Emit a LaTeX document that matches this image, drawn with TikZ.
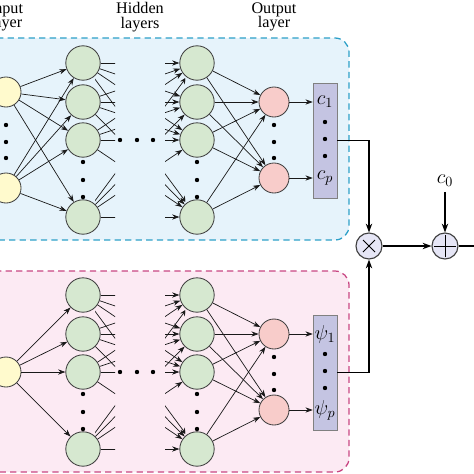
\documentclass[tikz,border=0pt]{standalone}
\usepackage{amsmath}
\usepackage{fontspec}
\setmainfont{Liberation Serif}
\usepackage{tikz}
\usetikzlibrary{arrows.meta}

\definecolor{boxblu}{RGB}{230,243,251}
\definecolor{bordoblu}{RGB}{45,160,200}
\definecolor{boxrosa}{RGB}{252,234,243}
\definecolor{bordorosa}{RGB}{200,70,130}
\definecolor{ingr}{RGB}{255,250,205}
\definecolor{nasc}{RGB}{214,232,208}
\definecolor{usc}{RGB}{248,204,202}
\definecolor{vett}{RGB}{196,196,226}
\definecolor{oper}{RGB}{230,230,246}

\tikzset{
  neur/.style={circle, draw=black!75, inner sep=0pt, line width=0.6pt},
  inp/.style={neur, fill=ingr, minimum size=0.75cm},
  hid/.style={neur, fill=nasc, minimum size=0.86cm},
  outn/.style={neur, fill=usc, minimum size=0.75cm},
  vec/.style={draw=black!50, fill=vett, minimum width=0.6cm, minimum height=2.875cm, inner sep=0pt},
  opn/.style={neur, fill=oper, minimum size=0.65cm, line width=0.8pt},
  conn/.style={-{Stealth[length=1.8mm, width=1.3mm]}, line width=0.5pt, black!90},
  link/.style={-{Stealth[length=2.2mm, width=1.6mm]}, line width=0.9pt},
  simb/.style={font=\fontsize{14}{16}\selectfont},
  riquadro/.style={line width=0.9pt, dash pattern=on 4.5pt off 3pt, rounded corners=10}
}

\begin{document}
\begin{tikzpicture}[x=0.025cm, y=-0.025cm, every node/.style={font=\fontsize{11.5}{10.5}\selectfont}]
\useasboundingbox (0,0) rectangle (474,474);
\clip (0,0) rectangle (474,474);

% Riquadri
\draw[riquadro, bordoblu, fill=boxblu] (-20,38) rectangle (349,240);
\draw[riquadro, bordorosa, fill=boxrosa] (-20,271) rectangle (349,472);

% Titoli
\node[align=center] (tin) at (6,17) {Input\\layer};
\node[align=center] (thid) at (140,17) {Hidden\\layers};
\node[align=center] (tout) at (274,17) {Output\\layer};

% Neuroni delle due reti
\foreach \r/\dy/\sym in {a/0/c, b/232/\psi} {
  \foreach \i/\y in {1/63, 2/102, 3/140, 4/217} {
    \node[hid] (p\r\i) at (83,\y+\dy) {};
    \node[hid] (q\r\i) at (197,\y+\dy) {};
  }
  \node[outn] (o\r1) at (274,102+\dy) {};
  \node[outn] (o\r2) at (274,178+\dy) {};
  \node[vec] (v\r) at (325,140.5+\dy) {};
  \node[simb] (s\r1) at (325,102+\dy) {$\sym_1$};
  \node[simb] (s\r2) at (325,178+\dy) {$\sym_p$};
  % puntini
  \foreach \y in {162,180,197} {
    \fill (83,\y+\dy) circle (2.2);
    \fill (197,\y+\dy) circle (2.2);
  }
  \foreach \y in {125,142,158} \fill (274,\y+\dy) circle (2.2);
  \foreach \y in {122,139,156} \fill (325,\y+\dy) circle (2.2);
  \foreach \x in {120,137,153} \fill (\x,140+\dy) circle (2.2);
  % connessioni
  \foreach \i in {1,...,4} {
    \draw[conn] (q\r\i) -- (o\r1);
    \draw[conn] (q\r\i) -- (o\r2);
  }
  \draw[conn] (o\r1) -- (o\r1 -| v\r.west);
  \draw[conn] (o\r2) -- (o\r2 -| v\r.west);
}

% Strato di ingresso
\node[inp] (ia1) at (6,92) {};
\node[inp] (ia2) at (6,188) {};
\node[inp] (ib1) at (6,372) {};
\foreach \y in {125,142,158} \fill (6,\y) circle (2.2);
\foreach \i in {1,...,4} {
  \draw[conn] (ia1) -- (pa\i);
  \draw[conn] (ia2) -- (pa\i);
  \draw[conn] (ib1) -- (pb\i);
}

% Collegamenti tronchi fra gli strati nascosti
\begin{scope}
\clip (95,0) rectangle (115,474);
\foreach \r in {a,b}
  \foreach \i in {1,...,4}
    \foreach \j in {1,...,4}
      \draw[line width=0.5pt, black!90] (p\r\i) -- (q\r\j);
\end{scope}
\begin{scope}
\clip (165,0) rectangle (185,474);
\foreach \r in {a,b}
  \foreach \i in {1,...,4}
    \foreach \j in {1,...,4}
      \draw[conn] (p\r\i) -- (q\r\j);
\end{scope}

% Prodotto e somma
\node[opn] (per) at (369,246) {};
\draw[line width=0.6pt] ([shift={(-6,-6)}]per.center) -- ([shift={(6,6)}]per.center)
  ([shift={(-6,6)}]per.center) -- ([shift={(6,-6)}]per.center);
\node[opn] (piu) at (445,246) {};
\draw[line width=0.6pt] ([xshift=-8]piu.center) -- ([xshift=8]piu.center)
  ([yshift=-8]piu.center) -- ([yshift=8]piu.center);
\node[simb] (czero) at (445,181) {$c_0$};
\coordinate (fine) at (480,246);

\draw[link] (va.east) -| (per);
\draw[link] (vb.east) -| (per);
\draw[link] (per) -- (piu);
\draw[link] (czero) -- (piu);
\draw[line width=0.9pt] (piu) -- (fine);
\end{tikzpicture}
\end{document}
